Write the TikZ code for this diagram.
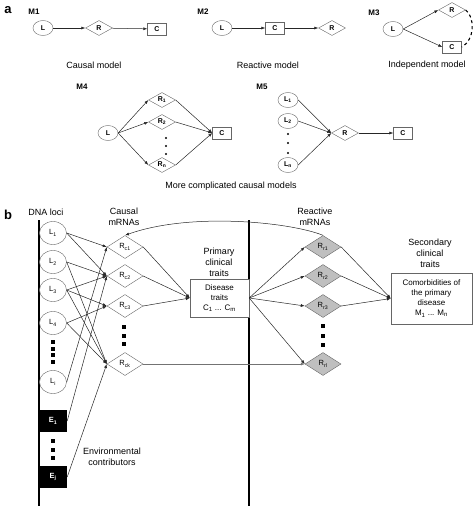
\documentclass[tikz,border=0pt]{standalone}
\usepackage{fontspec}
\setmainfont{Liberation Sans}
\usetikzlibrary{shapes.geometric,arrows.meta}
\begin{document}
\begin{tikzpicture}[x=1pt,y=-1pt,
  font=\fontsize{9}{11}\selectfont,
  arr/.style={-{Latex[length=4pt,width=3pt]}, line width=0.5pt, draw=black!85},
  ell/.style={ellipse, draw=black!60, fill=white, inner sep=0, minimum width=20pt, minimum height=15pt, font=\fontsize{7}{8}\selectfont\bfseries},
  dia/.style={diamond, draw=black!60, fill=white, inner sep=0, minimum width=27pt, minimum height=15pt, font=\fontsize{7}{8}\selectfont\bfseries},
  sbox/.style={rectangle, draw=black!60, fill=white, inner sep=0, minimum width=19pt, minimum height=12pt, font=\fontsize{7}{8}\selectfont\bfseries},
  mlab/.style={font=\fontsize{8}{9}\selectfont\bfseries},
  plab/.style={font=\fontsize{13}{13}\selectfont\bfseries},
  bell/.style={ellipse, draw=black!60, fill=white, inner sep=0, minimum width=27pt, minimum height=23pt, font=\fontsize{7.5}{8}\selectfont},
  bdia/.style={diamond, draw=black!60, fill=white, inner sep=0, minimum width=36pt, minimum height=23pt, font=\fontsize{7.5}{8}\selectfont},
  rdia/.style={bdia, fill=black!25},
  env/.style={rectangle, fill=black, text=white, inner sep=0, minimum width=28pt, minimum height=22pt, font=\fontsize{7.5}{8}\selectfont\bfseries},
  tbox/.style={rectangle, draw=black!60, fill=white, inner sep=0, align=center, font=\fontsize{8}{10}\selectfont},
  ctext/.style={align=center},
  sq/.style={fill=black}
]
\useasboundingbox (0,0) rectangle (474,507);

% ---------------- panel a ----------------
\node[plab] (pa) at (8,10) {a};
% M1
\node[mlab] (m1) at (34,12) {M1};
\node[ell] (l1a) at (43,28) {L};
\node[dia] (r1a) at (99,28) {R};
\node[sbox] (c1a) at (157,29) {C};
\draw[arr] (l1a) -- (r1a);
\draw[arr] (r1a) -- (c1a);
\node (t1) at (94,65) {Causal model};
% M2
\node[mlab] (m2) at (203,12) {M2};
\node[ell] (l2a) at (222,28) {L};
\node[sbox] (c2a) at (275,28) {C};
\node[dia] (r2a) at (332,28) {R};
\draw[arr] (l2a) -- (c2a);
\draw[arr] (c2a) -- (r2a);
\node (t2) at (268,65) {Reactive model};
% M3
\node[mlab] (m3) at (374,13) {M3};
\node[ell] (l3a) at (393,29) {L};
\node[dia] (r3a) at (452,10) {R};
\node[sbox] (c3a) at (452,47) {C};
\draw[arr] (l3a.east) -- (r3a.west);
\draw[arr] (l3a.east) -- (c3a.west);
\draw[dashed, line width=1.1pt] (r3a.east) .. controls (475,17) and (475,40) .. (c3a.east);
\node (t3) at (427,65) {Independent model};
% M4
\node[mlab] (m4) at (82,87) {M4};
\node[ell] (l4a) at (108,133) {L};
\node[dia] (r41) at (162,100) {R\textsubscript{1}};
\node[dia] (r42) at (162,122) {R\textsubscript{2}};
\node[dia] (r4n) at (162,165) {R\textsubscript{n}};
\node[sbox] (c4a) at (222,133) {C};
\fill (166,138) circle (1.1pt) (166,146) circle (1.1pt) (166,154) circle (1.1pt);
\foreach \r in {r41,r42,r4n}{
  \draw[arr] (l4a.east) -- (\r.west);
  \draw[arr] (\r.east) -- (c4a.west);
}
% M5
\node[mlab] (m5) at (262,87) {M5};
\node[ell] (l51) at (288,100) {L\textsubscript{1}};
\node[ell] (l52) at (288,121) {L\textsubscript{2}};
\node[ell] (l5n) at (288,165) {L\textsubscript{n}};
\node[dia] (r5a) at (345,133) {R};
\node[sbox] (c5a) at (403,133) {C};
\fill (288,134) circle (1.1pt) (288,143) circle (1.1pt) (288,153) circle (1.1pt);
\foreach \l in {l51,l52,l5n}{
  \draw[arr] (\l.east) -- (r5a.west);
}
\draw[arr] (r5a) -- (c5a);
\node (t45) at (231,186) {More complicated causal models};

% ---------------- panel b ----------------
\node[plab] (pb) at (8,215) {b};
\node (dna) at (46,212) {DNA loci};
\node[ctext] (cm) at (124,217) {Causal\\mRNAs};
\node[ctext] (pct) at (219,262) {Primary\\clinical\\traits};
\node[ctext] (rm) at (315,217) {Reactive\\mRNAs};
\node[ctext] (sct) at (430,253) {Secondary\\clinical\\traits};
\node[ctext] (envt) at (112,457) {Environmental\\contributors};

% vertical lines
\coordinate (v1t) at (39,220);
\coordinate (v1b) at (39,506);
\coordinate (v2t) at (249,220);
\coordinate (v2b) at (249,506);
\draw[line width=1.2pt] (v1t) -- (v1b);
\draw[line width=1.2pt] (v2t) -- (v2b);

% loci
\node[bell] (L1) at (53,233) {L\textsubscript{1}};
\node[bell] (L2) at (53,262) {L\textsubscript{2}};
\node[bell] (L3) at (53,290) {L\textsubscript{3}};
\node[bell] (L4) at (53,323) {L\textsubscript{4}};
\node[bell] (Li) at (53,382) {L\textsubscript{i}};
\foreach \y in {342,348.5,355,361.5} \fill[sq] (51,\y-2) rectangle (55,\y+2);
\node[env] (E1) at (53,421) {E\textsubscript{1}};
\node[env] (Ej) at (53,477) {E\textsubscript{j}};
\foreach \y in {441,449.5,458} \fill[sq] (51,\y-2) rectangle (55,\y+2);

% causal mRNAs
\node[bdia] (Rc1) at (125,247) {R\textsubscript{c1}};
\node[bdia] (Rc2) at (125,276) {R\textsubscript{c2}};
\node[bdia] (Rc3) at (125,306) {R\textsubscript{c3}};
\node[bdia] (Rck) at (125,364) {R\textsubscript{ck}};
\foreach \y in {327,335.5,344} \fill[sq] (122,\y-2) rectangle (126,\y+2);

% reactive mRNAs
\node[rdia] (Rr1) at (323,247) {R\textsubscript{r1}};
\node[rdia] (Rr2) at (323,276) {R\textsubscript{r2}};
\node[rdia] (Rr3) at (323,306) {R\textsubscript{r3}};
\node[rdia] (Rrl) at (323,364) {R\textsubscript{rl}};
\foreach \y in {326,335.5,345} \fill[sq] (321,\y-2) rectangle (325,\y+2);

% trait boxes
\node[tbox, minimum width=59pt, minimum height=38pt] (dis) at (219.5,298) {Disease\\traits\\C\textsubscript{1} ... C\textsubscript{m}};
\node[tbox, minimum width=81pt, minimum height=51pt] (com) at (431.5,298.5) {Comorbidities of\\the primary\\disease\\M\textsubscript{1} ... M\textsubscript{n}};

% loci -> causal mRNAs
\draw[arr] (L1.east) -- (Rc1.west);
\draw[arr] (L1.east) -- (Rc2.west);
\draw[arr] (L2.east) -- (Rc2.west);
\draw[arr] (L2.east) -- (Rck.west);
\draw[arr] (L3.east) -- (Rc2.west);
\draw[arr] (L3.east) -- (Rc3.west);
\draw[arr] (L3.east) -- (Rck.west);
\draw[arr] (L4.east) -- (Rc3.west);
\draw[arr] (L4.east) -- (Rck.west);
\draw[arr] (Li.east) -- (Rc1.west);
\draw[arr] (E1.east) -- (Rc2.west);
\draw[arr] (Ej.east) -- (Rck.west);

% causal -> disease
\draw[arr] (Rc1.east) -- (dis.west);
\draw[arr] (Rc2.east) -- (dis.west);
\draw[arr] (Rc3.east) -- (dis.west);
\draw[arr, draw=black!55] (Rck.east) -- (Rrl.west);

% disease -> reactive
\draw[arr] (dis.east) -- (Rr1.west);
\draw[arr] (dis.east) -- (Rr2.west);
\draw[arr] (dis.east) -- (Rr3.west);
\draw[arr] (dis.east) -- (Rrl.west);

% reactive -> comorbidities
\draw[arr] (Rr1.east) -- (com.west);
\draw[arr] (Rr2.east) -- (com.west);
\draw[arr] (Rr3.east) -- (com.west);

% feedback curve
\draw[arr] (Rr1.north) .. controls (290,222) and (190,212) .. (Rc1.north);
\end{tikzpicture}
\end{document}
